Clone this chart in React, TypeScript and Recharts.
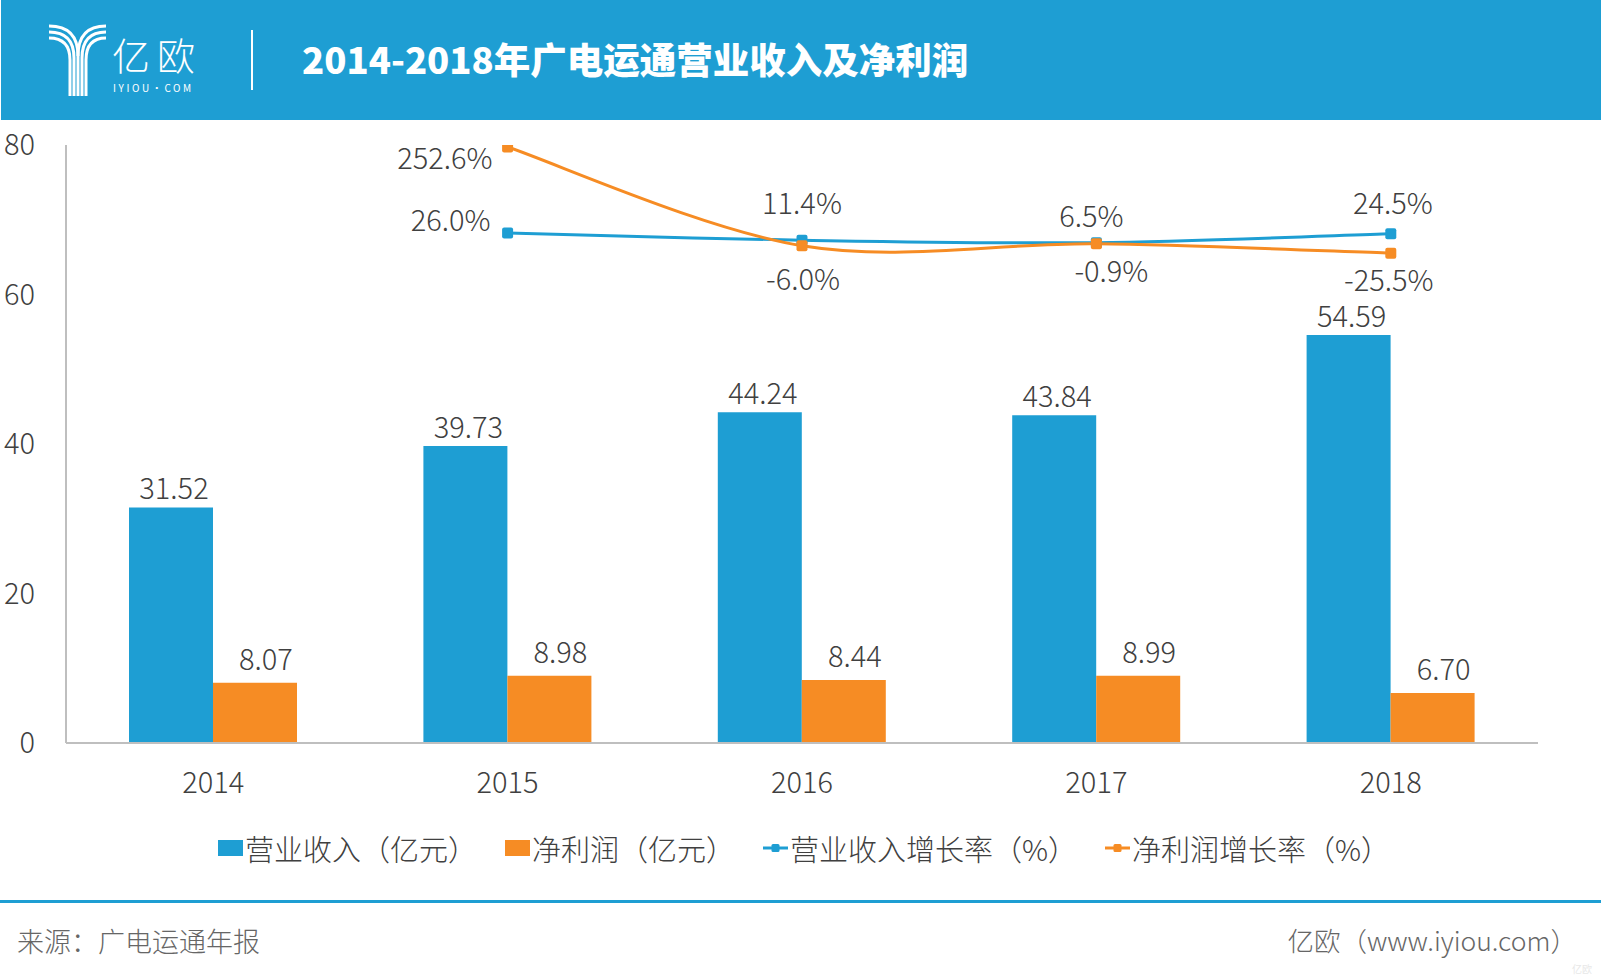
import React from 'react';
import { ComposedChart, Bar, Line, XAxis, YAxis, LabelList, Legend } from 'recharts';

// ---------- data ----------
const years = ['2014', '2015', '2016', '2017', '2018'];
const revenue = [31.52, 39.73, 44.24, 43.84, 54.59];
const netProfit = [8.07, 8.98, 8.44, 8.99, 6.7];
const revenueGrowth: (number | null)[] = [null, 26.0, 11.4, 6.5, 24.5];
const profitGrowth: (number | null)[] = [null, 252.6, -6.0, -0.9, -25.5];
const yTicks = [0, 20, 40, 60, 80];

const seriesNames = {
  revenue: '营业收入（亿元）',
  netProfit: '净利润（亿元）',
  revenueGrowth: '营业收入增长率（%）',
  profitGrowth: '净利润增长率（%）',
};
const legendOrder = [seriesNames.revenue, seriesNames.netProfit, seriesNames.revenueGrowth, seriesNames.profitGrowth];

const data = years.map((year, i) => ({
  year,
  revenue: revenue[i],
  netProfit: netProfit[i],
  revenueGrowth: revenueGrowth[i],
  profitGrowth: profitGrowth[i],
}));

// ---------- style ----------
const BLUE = '#1e9ed3';
const ORANGE = '#f68c24';
const TEXT = '#404040';
const AXIS = '#bfbfbf';
const FONT = '"Noto Sans CJK SC", "Noto Sans", sans-serif';

// label placement around each line point (text centre offsets)
const RG_LABEL = [
  null,
  { dx: -17, dy: -15, anchor: 'end' },
  { dx: 0, dy: -39, anchor: 'middle' },
  { dx: -5, dy: -29, anchor: 'middle' },
  { dx: 2, dy: -33, anchor: 'middle' },
];
const PG_LABEL = [
  null,
  { dx: -15, dy: 9, anchor: 'end' },
  { dx: 1, dy: 31, anchor: 'middle' },
  { dx: 15, dy: 25, anchor: 'middle' },
  { dx: -2, dy: 25, anchor: 'middle' },
];

// Cardinal (Catmull-Rom like) smoothing, similar to Excel's smoothed line
function cardinalCurve(context: any) {
  let pts: number[][] = [];
  return {
    areaStart() {},
    areaEnd() {},
    lineStart() {
      pts = [];
    },
    point(x: number, y: number) {
      pts.push([+x, +y]);
    },
    lineEnd() {
      const n = pts.length;
      if (!n) return;
      context.moveTo(pts[0][0], pts[0][1]);
      if (n === 2) {
        context.lineTo(pts[1][0], pts[1][1]);
        return;
      }
      for (let i = 0; i < n - 1; i++) {
        const p0 = pts[i > 0 ? i - 1 : i];
        const p1 = pts[i];
        const p2 = pts[i + 1];
        const p3 = pts[i + 2 < n ? i + 2 : i + 1];
        context.bezierCurveTo(
          p1[0] + (p2[0] - p0[0]) / 6,
          p1[1] + (p2[1] - p0[1]) / 6,
          p2[0] - (p3[0] - p1[0]) / 6,
          p2[1] - (p3[1] - p1[1]) / 6,
          p2[0],
          p2[1]
        );
      }
    },
  };
}

const makeDot = (color: string) => (props: any) => {
  const { cx, cy, index, value } = props;
  if (cx == null || cy == null || value == null || Number.isNaN(cy)) return <g key={`d${index}`} />;
  return <rect key={`d${index}`} x={cx - 5.5} y={cy - 5.5} width={11} height={11} rx={2} fill={color} />;
};

const makeLineLabel = (offsets: any[]) => (props: any) => {
  const { x, y, value, index } = props;
  const o = offsets[index];
  if (value == null || !o || x == null || y == null) return null;
  return (
    <text
      key={`l${index}`}
      x={x + o.dx}
      y={y + o.dy}
      textAnchor={o.anchor}
      dominantBaseline="central"
      fill={TEXT}
      fontSize={29}
      fontWeight={300}
      fontFamily={FONT}
    >
      {Number(value).toFixed(1)}%
    </text>
  );
};

const makeBarLabel = (dx: number, offset: number) => (props: any) => {
  const { x, y, width, value, index } = props;
  if (value == null) return null;
  return (
    <text
      key={`b${index}`}
      x={x + width / 2 + dx}
      y={y - offset}
      textAnchor="middle"
      fill={TEXT}
      fontSize={29}
      fontWeight={300}
      fontFamily={FONT}
    >
      {Number(value).toFixed(2)}
    </text>
  );
};

const renderLegend = (props: any) => {
  const payload = [...(props.payload || [])].sort(
    (a: any, b: any) => legendOrder.indexOf(a.value) - legendOrder.indexOf(b.value)
  );
  return (
    <div style={{ display: 'flex', alignItems: 'center', height: 44, paddingLeft: 218, fontFamily: FONT }}>
      {payload.map((entry: any, i: number) => (
        <div key={i} style={{ display: 'flex', alignItems: 'center', marginRight: 28 }}>
          {entry.type === 'line' ? (
            <svg width={25} height={16} style={{ marginRight: 2 }}>
              <line x1={0} y1={8} x2={25} y2={8} stroke={entry.color} strokeWidth={3} />
              <rect x={8.5} y={4} width={8} height={8} rx={1.5} fill={entry.color} />
            </svg>
          ) : (
            <span style={{ display: 'inline-block', width: 25, height: 16, background: entry.color, marginRight: 2 }} />
          )}
          <span style={{ fontSize: 29, color: TEXT, fontWeight: 300, lineHeight: '44px', whiteSpace: 'nowrap' }}>
            {entry.value}
          </span>
        </div>
      ))}
    </div>
  );
};

function Header() {
  return (
    <svg width={1603} height={120} style={{ position: 'absolute', left: 0, top: 0 }}>
      <rect x={1} y={0} width={1600} height={120} fill={BLUE} />
      <g stroke="#fff" strokeWidth={3} fill="none">
        <path d="M49,26 Q78,26 78,56 L78,96" />
        <path d="M49,32 Q74,32 74,58 L74,96" />
        <path d="M49,38 Q70,38 70,60 L70,96" />
        <path d="M106,26 Q78,26 78,56" />
        <path d="M106,32 Q82,32 82,58 L82,96" />
        <path d="M106,38 Q86,38 86,60 L86,96" />
      </g>
      <text x={112} y={70} fill="#fff" fontSize={38} fontWeight={300} letterSpacing={7} fontFamily={FONT}>
        亿欧
      </text>
      <text x={113} y={92} fill="#fff" fontSize={10} letterSpacing={2.6} fontFamily={FONT}>
        IYIOU·COM
      </text>
      <rect x={251} y={30} width={2} height={60} fill="#fff" />
      <text x={302} y={74} fill="#fff" fontSize={36.5} fontWeight={900} fontFamily={FONT}>
        2014-2018年广电运通营业收入及净利润
      </text>
    </svg>
  );
}

function Footer() {
  return (
    <svg width={1603} height={80} style={{ position: 'absolute', left: 0, top: 897 }}>
      <rect x={0} y={3} width={1601} height={3} fill={BLUE} />
      <text x={17} y={55} fill="#666" fontSize={27} fontFamily={FONT} fontWeight={300}>
        来源：广电运通年报
      </text>
      <text x={1577} y={54} fill="#666" fontSize={26.5} textAnchor="end" fontFamily={FONT} fontWeight={300}>
        亿欧（www.iyiou.com）
      </text>
      <text x={1572} y={76} fill="#e8e8e8" fontSize={10} fontFamily={FONT}>
        亿欧
      </text>
    </svg>
  );
}

export default function App() {
  return (
    <div
      style={{
        position: 'relative',
        width: 1603,
        height: 977,
        background: '#fff',
        fontFamily: FONT,
        overflow: 'hidden',
      }}
    >
      <style>{'body{margin:0}'}</style>
      <Header />
      <div style={{ position: 'absolute', left: 0, top: 0 }}>
        <ComposedChart
          width={1603}
          height={880}
          data={data}
          margin={{ top: 145, right: 65, bottom: 90, left: 0 }}
          barGap={0}
          barSize={84}
        >
          <XAxis
            dataKey="year"
            height={47}
            axisLine={{ stroke: AXIS, strokeWidth: 2 }}
            tickLine={false}
            tickMargin={23}
            interval={0}
            tick={{ fill: TEXT, fontSize: 29, fontWeight: 300 }}
          />
          <YAxis
            yAxisId="left"
            domain={[0, 80]}
            ticks={yTicks}
            width={66}
            interval={0}
            axisLine={{ stroke: AXIS, strokeWidth: 2 }}
            tickLine={false}
            tickMargin={25}
            tick={{ fill: TEXT, fontSize: 29, fontWeight: 300 }}
          />
          <YAxis yAxisId="rg" orientation="right" hide domain={[-1004.7, 203.8]} allowDataOverflow />
          <YAxis yAxisId="pg" orientation="right" hide domain={[-1309, 257.9]} allowDataOverflow />
          <Legend
            layout="horizontal"
            verticalAlign="middle"
            align="center"
            content={renderLegend}
            wrapperStyle={{ top: 826, left: 0, width: 1603, height: 44 }}
          />
          <Bar yAxisId="left" dataKey="revenue" name={seriesNames.revenue} fill={BLUE} isAnimationActive={false}>
            <LabelList dataKey="revenue" content={makeBarLabel(3, 8)} />
          </Bar>
          <Bar yAxisId="left" dataKey="netProfit" name={seriesNames.netProfit} fill={ORANGE} isAnimationActive={false}>
            <LabelList dataKey="netProfit" content={makeBarLabel(11, 13)} />
          </Bar>
          <Line
            yAxisId="rg"
            dataKey="revenueGrowth"
            name={seriesNames.revenueGrowth}
            type={cardinalCurve as any}
            stroke={BLUE}
            strokeWidth={3}
            dot={makeDot(BLUE)}
            activeDot={false}
            isAnimationActive={false}
          >
            <LabelList dataKey="revenueGrowth" content={makeLineLabel(RG_LABEL)} />
          </Line>
          <Line
            yAxisId="pg"
            dataKey="profitGrowth"
            name={seriesNames.profitGrowth}
            type={cardinalCurve as any}
            stroke={ORANGE}
            strokeWidth={3}
            dot={makeDot(ORANGE)}
            activeDot={false}
            isAnimationActive={false}
          >
            <LabelList dataKey="profitGrowth" content={makeLineLabel(PG_LABEL)} />
          </Line>
        </ComposedChart>
      </div>
      <Footer />
    </div>
  );
}
